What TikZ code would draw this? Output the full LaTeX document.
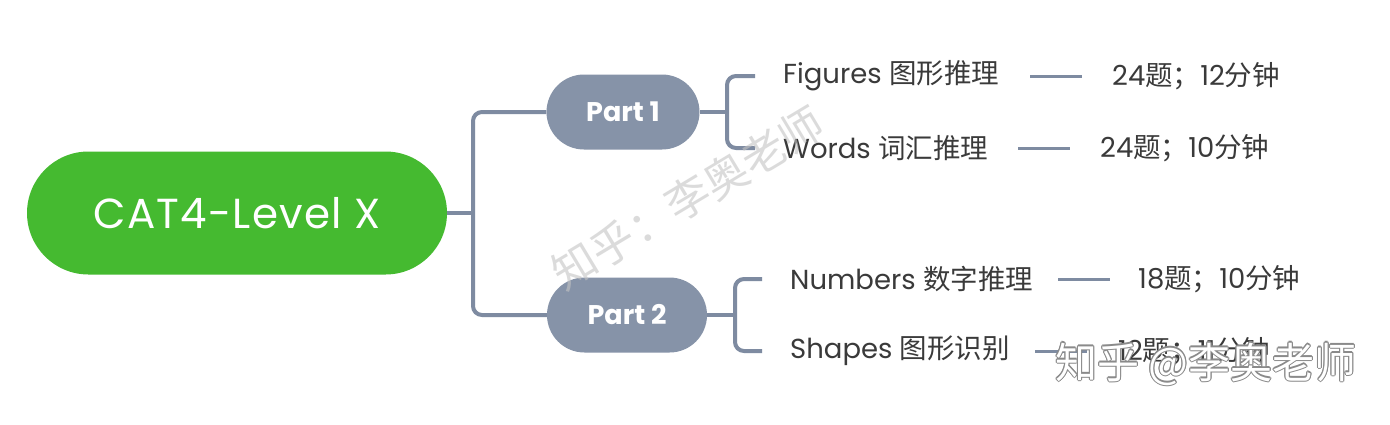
\documentclass[tikz,border=0pt]{standalone}
\usepackage{fontspec}
\setmainfont{Poppins}
\newfontfamily\cjk{Noto Sans CJK SC}
\usetikzlibrary{shapes.misc}
\definecolor{rootgreen}{HTML}{45BA30}
\definecolor{partgray}{HTML}{8693A8}
\definecolor{linegray}{HTML}{7E8BA1}
\definecolor{txt}{HTML}{3A3A3A}
\definecolor{wm}{HTML}{C4C4C4}
\definecolor{wmline}{HTML}{8A8A8A}
\begin{document}
\begin{tikzpicture}[x=1pt,y=-1pt,
  root/.style={rounded rectangle, fill=rootgreen, text=white, minimum width=420pt, minimum height=123pt, inner sep=0pt, font=\fontsize{42}{42}\selectfont\addfontfeatures{LetterSpace=3}},
  part/.style={rounded rectangle, fill=partgray, text=white, minimum height=75pt, inner sep=0pt, font=\fontsize{27}{27}\selectfont\bfseries},
  leaf/.style={text=txt, font=\fontsize{27.5}{27.5}\selectfont, inner sep=0pt, anchor=west},
  conn/.style={draw=linegray, line width=4pt, rounded corners=9pt},
  dashline/.style={draw=linegray, line width=3pt},
  wmark/.style={text=wm, opacity=0.6, font=\cjk\fontsize{44}{44}\selectfont, inner sep=0pt},
  wmout/.style={text=wmline, font=\cjk\fontsize{42}{42}\selectfont, inner sep=0pt, anchor=west},
  wmin/.style={text=white, font=\cjk\fontsize{42}{42}\selectfont, inner sep=0pt, anchor=west}]
\useasboundingbox[fill=white] (0,0) rectangle (1390,424);

% nodes
\node[root] (root) at (237,213) {CAT4-Level X};
\node[part, minimum width=153pt] (p1) at (623,112) {Part 1};
\node[part, minimum width=160pt] (p2) at (627,315) {Part 2};

\node[leaf] (l1) at (783,76) {Figures {\cjk 图形推理}};
\node[leaf] (l2) at (783,148) {Words {\cjk 词汇推理}};
\node[leaf] (l3) at (790,279) {Numbers {\cjk 数字推理}};
\node[leaf] (l4) at (790,351) {Shapes {\cjk 图形识别}};

\node[leaf] (v1) at (1112,76) {24{\cjk 题；}12{\cjk 分钟}};
\node[leaf] (v2) at (1100,148) {24{\cjk 题；}10{\cjk 分钟}};
\node[leaf] (v3) at (1138,279) {18{\cjk 题；}10{\cjk 分钟}};
\node[leaf] (v4) at (1118,351) {12{\cjk 题；}11{\cjk 分钟}};

% junction coordinates
\coordinate (j) at (473,213);
\coordinate (b1) at (727,112);
\coordinate (b1t) at (755,76);
\coordinate (b1b) at (755,148);
\coordinate (b2) at (735,315);
\coordinate (b2t) at (762,279);
\coordinate (b2b) at (762,351);

% connectors
\draw[conn] (root.east) -- (j);
\draw[conn] (p1.west) -| (j) |- (p2.west);
\draw[conn] (p1.east) -- (b1);
\draw[conn] (b1t) -| (b1) |- (b1b);
\draw[conn] (p2.east) -- (b2);
\draw[conn] (b2t) -| (b2) |- (b2b);

% dashes
\coordinate (d1a) at (1030,76);  \coordinate (d1b) at (1082,76);
\coordinate (d2a) at (1018,148); \coordinate (d2b) at (1070,148);
\coordinate (d3a) at (1058,279); \coordinate (d3b) at (1110,279);
\coordinate (d4a) at (1035,351); \coordinate (d4b) at (1087,351);
\draw[dashline] (d1a) -- (d1b);
\draw[dashline] (d2a) -- (d2b);
\draw[dashline] (d3a) -- (d3b);
\draw[dashline] (d4a) -- (d4b);

% watermarks
\node[wmark, rotate=31] (wm1) at (688,198) {知乎：李奥老师};
\foreach \dx/\dy [count=\i] in {-1.2/0,1.2/0,0/-1.2,0/1.2,-0.9/-0.9,0.9/0.9,-0.9/0.9,0.9/-0.9}{
  \node[wmout] (wo\i) at (1055+\dx,364+\dy) {知乎 @李奥老师};
}
\node[wmin] (wi) at (1055,364) {知乎 @李奥老师};
\end{tikzpicture}
\end{document}
